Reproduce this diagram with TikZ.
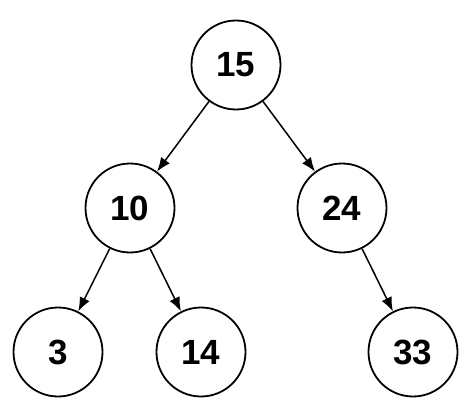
\documentclass[tikz,border=0pt]{standalone}
\usepackage{fontspec}
\setmainfont{Liberation Sans}
\usetikzlibrary{arrows.meta}
\begin{document}
\begin{tikzpicture}[x=1pt,y=-1pt,
  treenode/.style={circle,draw,line width=1.8pt,minimum size=89pt,inner sep=0pt,font=\fontsize{35}{38}\selectfont\bfseries},
  edge/.style={line width=1.5pt,-{Latex[length=14pt,width=11pt]}}]
\useasboundingbox[fill=white] (0,0) rectangle (474,409);
\node[treenode] (n15) at (236,65) {15};
\node[treenode] (n10) at (130,208) {10};
\node[treenode] (n24) at (342,208) {24};
\node[treenode] (n3) at (58,352) {3};
\node[treenode] (n14) at (201,352) {14};
\node[treenode] (n33) at (413,352) {33};
\draw[edge] (n15) -- (n10);
\draw[edge] (n15) -- (n24);
\draw[edge] (n10) -- (n3);
\draw[edge] (n10) -- (n14);
\draw[edge] (n24) -- (n33);
\end{tikzpicture}
\end{document}
